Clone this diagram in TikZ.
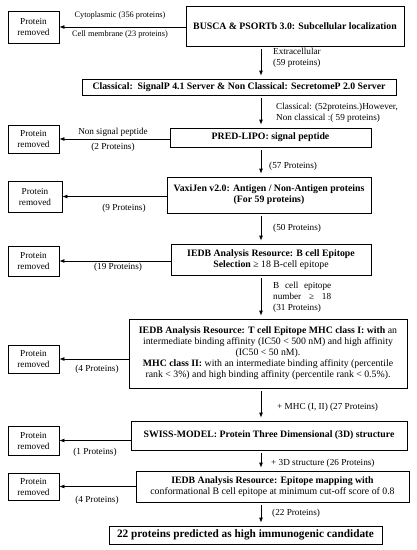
\documentclass[tikz,border=0pt]{standalone}
\usepackage{fontspec}
\setmainfont{Liberation Serif}
\usetikzlibrary{arrows.meta}
\begin{document}
\begin{tikzpicture}[x=1pt,y=-1pt,
 box/.style={draw,line width=0.8pt,inner sep=1pt,align=center,font=\fontsize{9.8}{11}\selectfont},
 rm/.style={box,minimum width=51,minimum height=29,font=\fontsize{9.2}{11}\selectfont},
 arr/.style={-{Latex[length=5pt,width=4pt]},line width=0.8pt},
 varr/.style={arr,shorten <=3pt,shorten >=3pt},
 lbl/.style={font=\fontsize{9.2}{11}\selectfont,inner sep=0pt,align=left},
 slbl/.style={lbl,font=\fontsize{8.3}{11}\selectfont},
]
\useasboundingbox[fill=white] (0,0) rectangle (416,550);
\coordinate (spine) at (261,0);
% main boxes
\node[box,minimum width=218,minimum height=40] (busca) at (295,26) {\textbf{BUSCA \& PSORTb 3.0: Subcellular localization}};
\node[box,minimum width=314,minimum height=16] (classical) at (239,87) {\textbf{Classical:\ \ SignalP 4.1 Server \& Non Classical: SecretomeP 2.0 Server}};
\node[box,minimum width=201,minimum height=19] (pred) at (270.5,137.5) {\textbf{PRED-LIPO: signal peptide}};
\node[box,minimum width=204,minimum height=36] (vaxi) at (269,195) {\textbf{VaxiJen v2.0: Antigen / Non-Antigen proteins}\\\textbf{(For 59 proteins)}};
\node[box,minimum width=200,minimum height=31] (bcell) at (271,259.5) {\textbf{IEDB Analysis Resource: B cell Epitope}\\\textbf{Selection} ≥ 18 B-cell epitope};
\node[box,minimum width=278,minimum height=69] (tcell) at (268,353.5) {\textbf{IEDB Analysis Resource: T cell Epitope MHC class I: with} an\\intermediate binding affinity (IC50 < 500 nM) and high affinity\\(IC50 < 50 nM).\\\textbf{MHC class II:} with an intermediate binding affinity (percentile\\rank < 3\%) and high binding affinity (percentile rank < 0.5\%).};
\node[box,minimum width=276,minimum height=29] (swiss) at (269,435.5) {\textbf{SWISS-MODEL: Protein Three Dimensional (3D) structure}};
\node[box,minimum width=273,minimum height=31] (epi) at (272.5,486.5) {\textbf{IEDB Analysis Resource: Epitope mapping with}\\conformational B cell epitope at minimum cut-off score of 0.8};
\node[box,minimum width=273,minimum height=18,font=\fontsize{11.3}{13}\selectfont] (final) at (245.5,535) {\textbf{22 proteins predicted as high immunogenic candidate}};
% removed boxes
\node[rm,minimum height=32] (rm1) at (33.5,27) {Protein\\removed};
\node[rm,minimum height=28] (rm2) at (33.5,139) {Protein\\removed};
\node[rm,minimum width=54,minimum height=31] (rm3) at (35,196.5) {Protein\\removed};
\node[rm,minimum height=30] (rm4) at (33.5,261) {Protein\\removed};
\node[rm,minimum height=28] (rm5) at (33.5,359) {Protein\\removed};
\node[rm,minimum height=29] (rm6) at (33.5,440.5) {Protein\\removed};
\node[rm,minimum height=27] (rm7) at (33.5,486.5) {Protein\\removed};
% horizontal arrows
\draw[arr] (busca.west |- rm1.east) -- (rm1.east);
\draw[arr] (pred.west |- rm2.east) -- (rm2.east);
\draw[arr] (vaxi.west |- rm3.east) -- (rm3.east);
\draw[arr] (bcell.west |- rm4.east) -- (rm4.east);
\draw[arr] (tcell.west |- rm5.east) -- (rm5.east);
\draw[arr] (swiss.west |- rm6.east) -- (rm6.east);
\draw[arr] (epi.west |- rm7.east) -- (rm7.east);
% vertical arrows
\draw[varr] (busca.south -| spine) -- (classical.north -| spine);
\draw[varr] (classical.south -| spine) -- (pred.north -| spine);
\draw[varr] (pred.south -| spine) -- (vaxi.north -| spine);
\draw[varr] (vaxi.south -| spine) -- (bcell.north -| spine);
\draw[varr] (bcell.south -| spine) -- (tcell.north -| spine);
\draw[varr] (tcell.south -| spine) -- (swiss.north -| spine);
\draw[varr] (swiss.south -| spine) -- (epi.north -| spine);
\draw[varr] (epi.south -| spine) -- (final.north -| spine);
% labels
\node[slbl] (l1a) at (120,16) {Cytoplasmic (356 proteins)};
\node[slbl] (l1b) at (120,34) {Cell membrane (23 proteins)};
\node[lbl,anchor=west] (l2) at (273,57.5) {Extracellular\\(59 proteins)};
\node[lbl,anchor=west] (l3) at (276,113) {Classical: (52proteins.)However,\\Non classical :( 59 proteins)};
\node[lbl] (l4a) at (113,132) {Non signal peptide};
\node[lbl] (l4b) at (113,147) {(2 Proteins)};
\node[lbl,anchor=west] (l5) at (269,166) {(57 Proteins)};
\node[lbl] (l6) at (124,208) {(9 Proteins)};
\node[lbl,anchor=west] (l7) at (273,228) {(50 Proteins)};
\node[lbl] (l8) at (118,267) {(19 Proteins)};
\node[lbl,anchor=west] (l9) at (273,297) {\makebox[58pt][s]{B cell epitope}\\\makebox[58pt][s]{number ≥ 18}\\(31 Proteins)};
\node[lbl] (l10) at (97,369) {(4 Proteins)};
\node[lbl,anchor=west] (l11) at (277,407) {+ MHC (I, II) (27 Proteins)};
\node[lbl] (l12) at (95,452) {(1 Proteins)};
\node[lbl,anchor=west] (l13) at (271,463) {+ 3D structure (26 Proteins)};
\node[lbl] (l14) at (97,500) {(4 Proteins)};
\node[lbl,anchor=west] (l15) at (272,513) {(22 Proteins)};
\end{tikzpicture}
\end{document}
